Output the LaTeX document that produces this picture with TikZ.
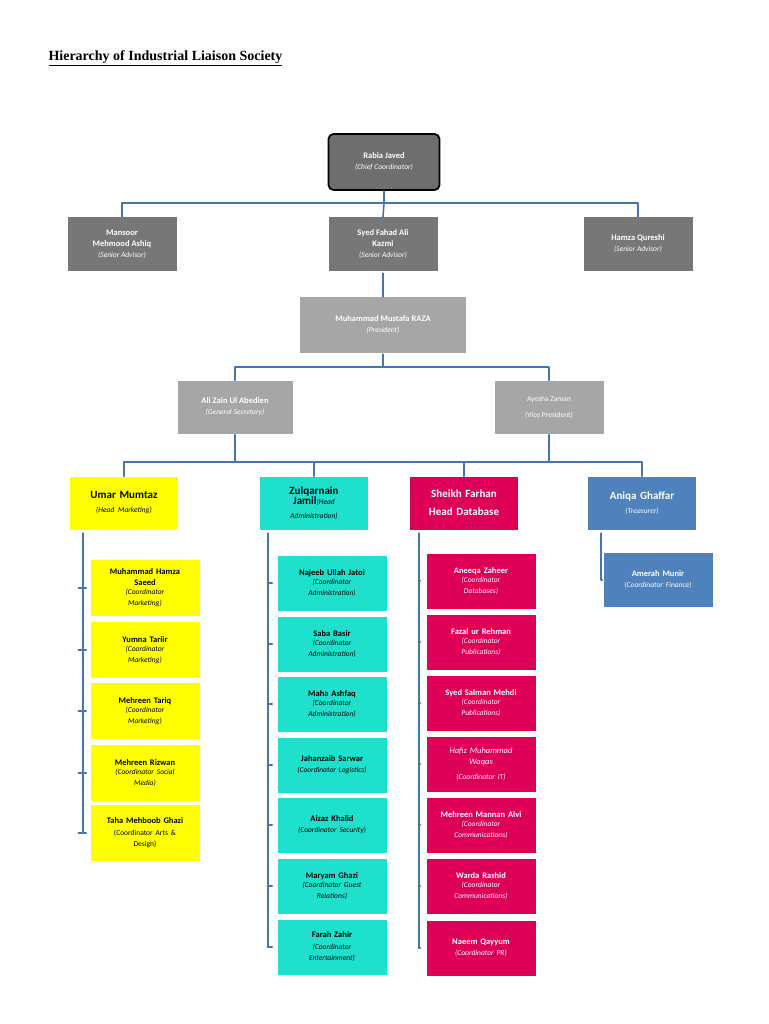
\documentclass[tikz,border=0pt]{standalone}
\usepackage{fontspec}
\setmainfont{Carlito}
\newfontfamily\titlefont{Liberation Serif}
\usetikzlibrary{positioning,calc}
\definecolor{lineblue}{HTML}{4A74AC}
\definecolor{dgray}{HTML}{6E6E6E}
\definecolor{mgray}{HTML}{777777}
\definecolor{lgray}{HTML}{A6A6A6}
\definecolor{ylw}{HTML}{FFFF00}
\definecolor{cyn}{HTML}{1EE0CC}
\definecolor{rd}{HTML}{DE0058}
\definecolor{blu}{HTML}{4F81BD}
\newcommand{\pname}[1]{\textbf{#1}}
\newcommand{\prole}[1]{{\itshape\fontsize{7.5}{9}\selectfont(#1)}}
\begin{document}
\begin{tikzpicture}[x=1pt, y=-1pt, line cap=round, line join=round,
  box/.style={align=center, inner sep=1pt, font=\fontsize{8.5}{11}\selectfont},
  grey/.style={box, fill=mgray, text=white, minimum width=109pt, minimum height=54pt},
  head/.style={box, minimum width=108pt, minimum height=53pt, text width=104pt, font=\fontsize{11}{14}\selectfont},
  kid/.style={box, minimum width=109pt, minimum height=55pt, text width=106pt},
  link/.style={lineblue, line width=1.6pt}]

\useasboundingbox (0,0) rectangle (768,1024);
\node[anchor=west, font=\titlefont\bfseries\fontsize{14}{16}\selectfont] (title) at (45,58) {\underline{Hierarchy of Industrial Liaison Society}};

% top levels
\node[grey, fill=dgray, draw=black, line width=1.8pt, rounded corners=5pt, minimum width=111pt, minimum height=56pt] (rabia) at (384,162) {\pname{Rabia Javed}\\\prole{Chief Coordinator}};
\node[grey] (mansoor) at (122,244) {\pname{Mansoor}\\\pname{Mehmood Ashiq}\\\prole{Senior Advisor}};
\node[grey] (syed) at (383,244) {\pname{Syed Fahad Ali}\\\pname{Kazmi}\\\prole{Senior Advisor}};
\node[grey] (hamza) at (638,244) {\pname{Hamza Qureshi}\\\prole{Senior Advisor}};
\node[grey, fill=lgray, minimum width=166pt, minimum height=56pt] (raza) at (383,325) {\pname{Muhammad Mustafa RAZA}\\\prole{President}};
\node[grey, fill=lgray, minimum width=115pt, minimum height=53pt] (ali) at (235,407) {\pname{Ali Zain Ul Abedien}\\\prole{General Secretary}};
\node[grey, fill=lgray, minimum width=109pt, minimum height=53pt, font=\fontsize{7.5}{16}\selectfont] (ayesha) at (549,407) {Ayesha Zaman\\(Vice President)};

% heads
\node[head, fill=ylw] (umar) at (124,503) {\pname{Umar Mumtaz}\\\prole{Head Marketing}};
\node[head, fill=cyn] (zulq) at (314,503) {\pname{Zulqarnain}\\\pname{Jamil}\prole{Head\\Administration}};
\node[head, fill=rd, text=white, font=\fontsize{11}{18}\selectfont] (sheikh) at (464,503) {\pname{Sheikh Farhan}\\\pname{Head Database}};
\node[head, fill=blu, text=white] (aniqa) at (642,503) {\pname{Aniqa Ghaffar}\\\prole{Treasurer}};

% connectors
\draw[link] (rabia.south) -- ++(0,12) coordinate (b1);
\draw[link] (mansoor.north) |- (b1) -| (hamza.north);
\draw[link] (b1) -- (syed.north);
\draw[link] (syed.south) ++(0,2) -- (raza.north);
\draw[link] (raza.south) ++(0,1) -- ++(0,13) coordinate (b2);
\draw[link] (ali.north) |- (b2) -| (ayesha.north);
\draw[link] (ali.south) ++(0,1) -- ++(0,27) coordinate (b3);
\draw[link] (ayesha.south) ++(0,1) -- ++(0,27);
\draw[link] (umar.north) |- (b3) -| (aniqa.north);
\draw[link] (zulq.north) -- (zulq.north |- b3);
\draw[link] (sheikh.north) -- (sheikh.north |- b3);

% marketing team
\foreach \i/\y/\txt in {
  mk1/588/{\pname{Muhammad Hamza}\\\pname{Saeed}\\\prole{Coordinator\\Marketing}},
  mk2/650/{\pname{Yumna Tariir}\\\prole{Coordinator\\Marketing}},
  mk3/711/{\pname{Mehreen Tariq}\\\prole{Coordinator\\Marketing}},
  mk4/773/{\pname{Mehreen Rizwan}\\\prole{Coordinator Social\\Media}},
  mk5/833/{\pname{Taha Mehboob Ghazi}\\[3pt]{\fontsize{7.5}{9}\selectfont(Coordinator Arts \&\\Design)}}}
  {\node[kid, fill=ylw, minimum height=56pt] (\i) at (145,\y) {\txt};
   \draw[link, line width=1.3pt] (\i.west) ++(-4,0) -- ++(-8,0);}
\draw[link, line width=1.3pt] (83,533) -- (83,833);

% administration team
\foreach \i/\y/\txt in {
  ad1/583/{\pname{Najeeb Ullah Jatoi}\\\prole{Coordinator\\Administration}},
  ad2/644/{\pname{Saba Basir}\\\prole{Coordinator\\Administration}},
  ad3/704/{\pname{Maha Ashfaq}\\\prole{Coordinator\\Administration}},
  ad4/765/{\pname{Jahanzaib Sarwar}\\\prole{Coordinator Logistics}},
  ad5/825/{\pname{Aizaz Khalid}\\\prole{Coordinator Security}},
  ad6/886/{\pname{Maryam Ghazi}\\\prole{Coordinator Guest\\Relations}},
  ad7/947/{\pname{Farah Zahir}\\[3pt]\prole{Coordinator\\Entertainment}}}
  {\node[kid, fill=cyn] (\i) at (332,\y) {\txt};
   \draw[link, line width=1.3pt] (\i.west) ++(-5,0) -- ++(-5,0);}
\draw[link, line width=1.3pt] (268,533) -- (268,947);

% database team
\foreach \i/\y/\txt in {
  db1/581/{\pname{Aneeqa Zaheer}\\\prole{Coordinator\\Databases}},
  db2/642/{\pname{Fazal ur Rehman}\\\prole{Coordinator\\Publications}},
  db3/703/{\pname{Syed Salman Mehdi}\\\prole{Coordinator\\Publications}},
  db4/764/{{\itshape Hafiz Muhammad\\Waqas}\\[4pt]\prole{Coordinator IT}},
  db5/825/{\pname{Mehreen Mannan Alvi}\\\prole{Coordinator\\Communications}},
  db6/886/{\pname{Warda Rashid}\\\prole{Coordinator\\Communications}},
  db7/948/{\pname{Naeem Qayyum}\\\prole{Coordinator PR}}}
  {\node[kid, fill=rd, text=white] (\i) at (481,\y) {\txt};
   \draw[link, line width=1.3pt] (\i.west) ++(-6,0) -- ++(-2,0);}
\draw[link, line width=1.3pt] (419,533) -- (419,948);

% finance
\node[kid, fill=blu, text=white, minimum height=54pt] (fin) at (658,580) {\pname{Amerah Munir}\\\prole{Coordinator Finance}};
\draw[link, line width=1.3pt] (601,533) |- ($(fin.west)+(-1,0)$);
\end{tikzpicture}
\end{document}
